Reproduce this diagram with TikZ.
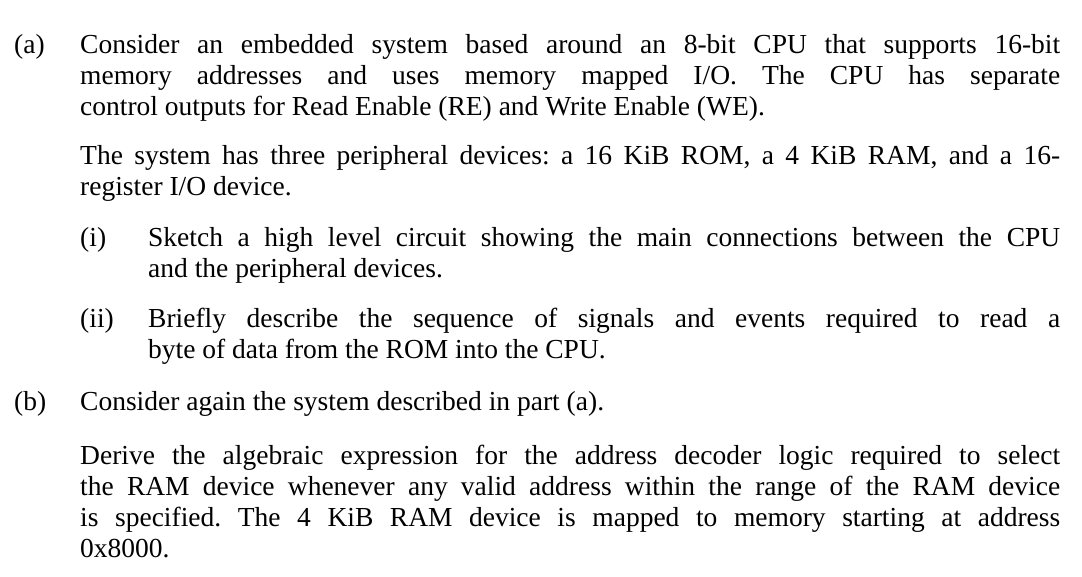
\documentclass[tikz,border=0pt]{standalone}
\usepackage{fontspec}
\setmainfont{Liberation Serif}
\begin{document}
\frenchspacing
\begin{tikzpicture}[x=1pt,y=-1pt,
  para/.style={anchor=north west,inner sep=0pt,align=justify,font=\fontsize{27.5}{31}\selectfont\frenchspacing},
  lab/.style={anchor=north west,inner sep=0pt,font=\fontsize{27.5}{31}\selectfont}]
\useasboundingbox[fill=white] (0,0) rectangle (1082,576);
\node[lab] (la) at (14,34) {(a)};
\node[para,text width=980pt] (p1) at (80,34) {Consider an embedded system based around an 8-bit CPU that supports 16-bit\linebreak memory addresses and uses memory mapped I/O. The CPU has separate\linebreak control outputs for Read Enable (RE) and Write Enable (WE).};
\node[para,text width=980pt] (p2) at (80,145) {The system has three peripheral devices: a 16 KiB ROM, a 4 KiB RAM, and a 16-\linebreak register I/O device.};
\node[lab] (li) at (80,227) {(i)};
\node[para,text width=912pt] (p3) at (148,227) {Sketch a high level circuit showing the main connections between the CPU\linebreak and the peripheral devices.};
\node[lab] (lii) at (80,308) {(ii)};
\node[para,text width=912pt] (p4) at (148,308) {Briefly describe the sequence of signals and events required to read a\linebreak byte of data from the ROM into the CPU.};
\node[lab] (lb) at (14,391) {(b)};
\node[para,text width=980pt] (p5) at (80,391) {Consider again the system described in part (a).};
\node[para,text width=980pt] (p6) at (80,445) {Derive the algebraic expression for the address decoder logic required to select\linebreak the RAM device whenever any valid address within the range of the RAM device\linebreak is specified. The 4 KiB RAM device is mapped to memory starting at address\linebreak 0x8000.};
\end{tikzpicture}
\end{document}
